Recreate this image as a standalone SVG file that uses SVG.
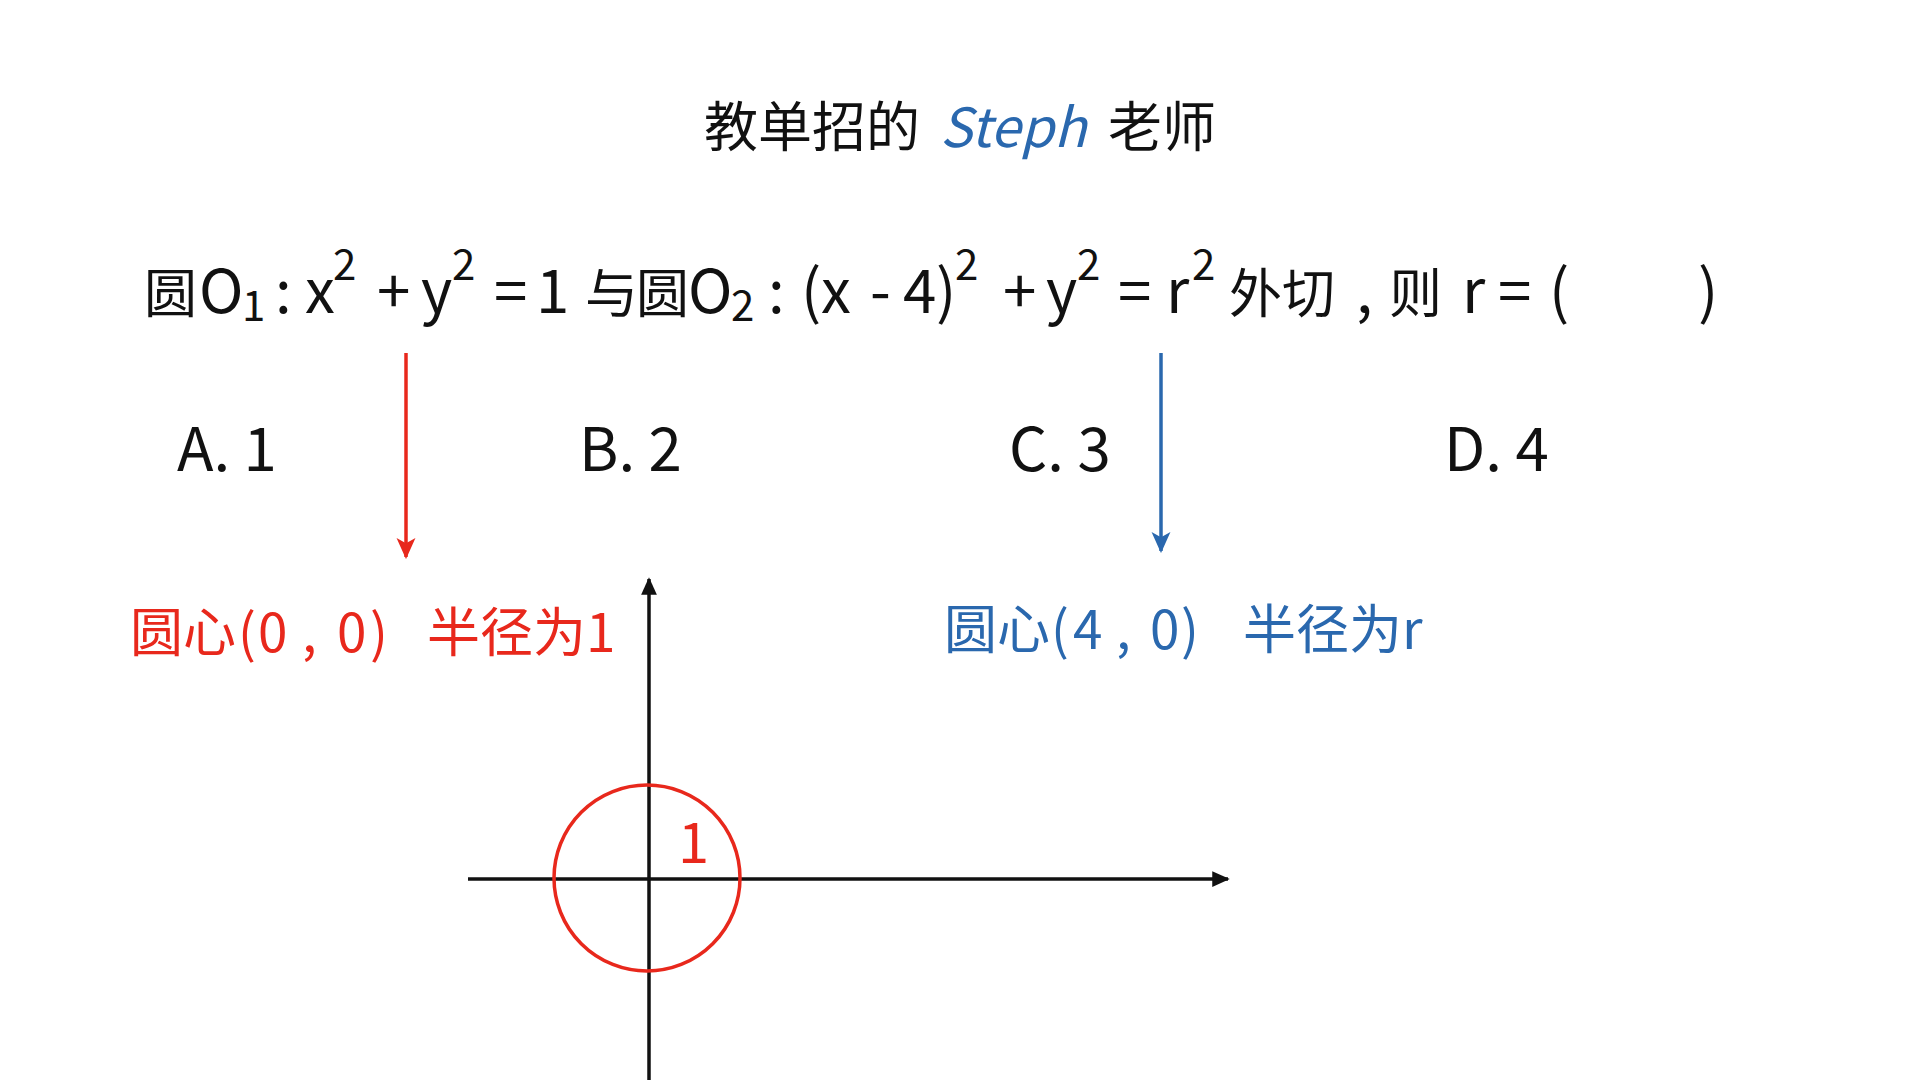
<svg xmlns="http://www.w3.org/2000/svg" width="1920" height="1080" viewBox="0 0 1920 1080">
<style>
text{font-family:"Noto Sans CJK SC","Noto Sans",sans-serif;fill:#111}
.cj{font-size:53px}
.lt{font-size:60px}
.sp{font-size:42px}
.opt{font-size:60px}
.red{fill:#e8281c}
.blue{fill:#2a68ae}
</style>
<defs>
<marker id="ar" viewBox="0 0 10 10" refX="9" refY="5" markerWidth="6" markerHeight="6" markerUnits="strokeWidth" orient="auto">
<path d="M0,0.5 L10,5 L0,9.5 L2.5,5 Z" fill="#e8281c"/>
</marker>
<marker id="ab" viewBox="0 0 10 10" refX="9" refY="5" markerWidth="6" markerHeight="6" markerUnits="strokeWidth" orient="auto">
<path d="M0,0.5 L10,5 L0,9.5 L2.5,5 Z" fill="#2a68ae"/>
</marker>
<marker id="ak" viewBox="0 0 10 10" refX="9" refY="5" markerWidth="5" markerHeight="5" markerUnits="strokeWidth" orient="auto">
<path d="M0,0.5 L10,5 L0,9.5 Z" fill="#111"/>
</marker>
</defs>
<rect width="1920" height="1080" fill="#fff"/>

<g id="title">
<text y="147" font-size="54"><tspan x="704">教单招的</tspan><tspan x="940" font-style="italic" fill="#2a68ae">Steph</tspan><tspan x="1108">老师</tspan></text>
</g>

<g id="question">
<text y="313">
<tspan class="cj" x="144">圆</tspan><tspan class="lt" x="199">O</tspan><tspan class="sp" x="242" y="321">1</tspan><tspan class="lt" x="275" y="313">:</tspan><tspan class="lt" x="305">x</tspan><tspan class="sp" x="333" y="280">2</tspan><tspan class="lt" x="377" y="313">+</tspan><tspan class="lt" x="421">y</tspan><tspan class="sp" x="452" y="280">2</tspan><tspan class="lt" x="494" y="313">=</tspan><tspan class="lt" x="536">1</tspan><tspan class="cj" x="585">与</tspan><tspan class="cj" x="636">圆</tspan><tspan class="lt" x="688">O</tspan><tspan class="sp" x="731" y="321">2</tspan><tspan class="lt" x="768" y="313">:</tspan><tspan class="lt" x="801">(</tspan><tspan class="lt" x="821">x</tspan><tspan class="lt" x="870">-</tspan><tspan class="lt" x="903">4</tspan><tspan class="lt" x="936">)</tspan><tspan class="sp" x="955" y="280">2</tspan><tspan class="lt" x="1003" y="313">+</tspan><tspan class="lt" x="1046">y</tspan><tspan class="sp" x="1077" y="280">2</tspan><tspan class="lt" x="1118" y="313">=</tspan><tspan class="lt" x="1166">r</tspan><tspan class="sp" x="1192" y="280">2</tspan><tspan class="cj" x="1229" y="313">外切</tspan><tspan class="lt" x="1356">,</tspan><tspan class="cj" x="1389">则</tspan><tspan class="lt" x="1462">r</tspan><tspan class="lt" x="1498">=</tspan><tspan class="lt" x="1549">(</tspan><tspan class="lt" x="1698">)</tspan>
</text>
</g>

<g id="optA"><text class="opt" x="177" y="471">A. 1</text></g>
<g id="optB"><text class="opt" x="579" y="471">B. 2</text></g>
<g id="optC"><text class="opt" x="1009" y="471">C. 3</text></g>
<g id="optD"><text class="opt" x="1444" y="471">D. 4</text></g>

<g id="connectors">
<line x1="406" y1="353" x2="406" y2="557" stroke="#e8281c" stroke-width="3.5" marker-end="url(#ar)"/>
<line x1="1161" y1="353" x2="1161" y2="551" stroke="#2a68ae" stroke-width="3.5" marker-end="url(#ab)"/>
</g>

<g id="circle1-info">
<text class="red" font-size="53" y="652"><tspan x="130">圆心</tspan><tspan x="238">(</tspan><tspan x="258">0</tspan><tspan x="302">,</tspan><tspan x="337">0</tspan><tspan x="370">)</tspan><tspan x="427">半径为1</tspan></text>
</g>
<g id="circle2-info">
<text class="blue" font-size="53" y="649"><tspan x="944">圆心</tspan><tspan x="1051">(</tspan><tspan x="1073">4</tspan><tspan x="1116">,</tspan><tspan x="1150">0</tspan><tspan x="1181">)</tspan><tspan x="1243">半径为r</tspan></text>
</g>

<g id="axes">
<line x1="649" y1="1080" x2="649" y2="579" stroke="#111" stroke-width="3.5" marker-end="url(#ak)"/>
<line x1="468" y1="879" x2="1228" y2="879" stroke="#111" stroke-width="3.5" marker-end="url(#ak)"/>
</g>

<g id="circle1">
<circle cx="647" cy="878" r="93" fill="none" stroke="#e8281c" stroke-width="3.5"/>
<text class="red" font-size="56" x="678" y="863">1</text>
</g>
</svg>
